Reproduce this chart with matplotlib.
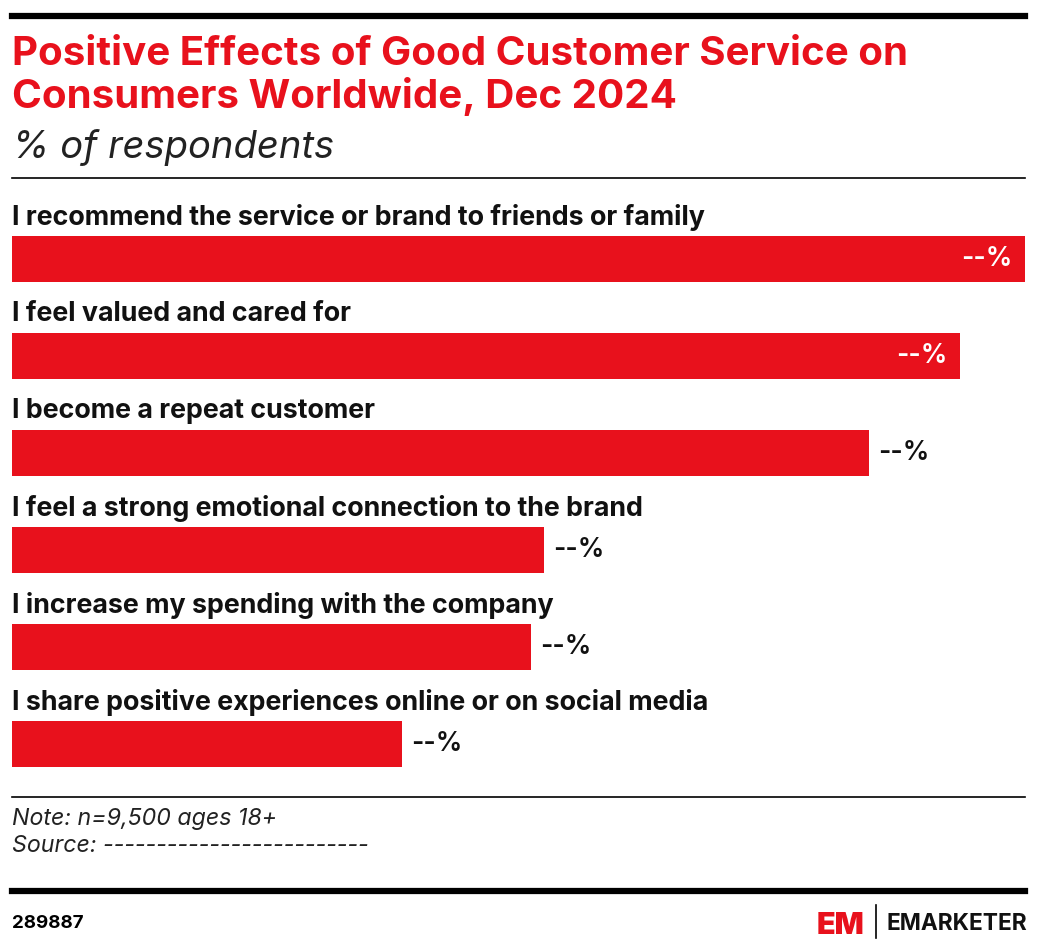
import matplotlib.pyplot as plt
from matplotlib.lines import Line2D

# data
categories = [
    "I recommend the service or brand to friends or family",
    "I feel valued and cared for",
    "I become a repeat customer",
    "I feel a strong emotional connection to the brand",
    "I increase my spending with the company",
    "I share positive experiences online or on social media",
]
values = [78, 73, 66, 41, 40, 30]
value_labels = ["--%"] * len(values)
inside = [True, True, False, False, False, False]

RED = "#E8111C"
W, H = 1038, 952
plt.rcParams['font.family'] = ['Inter', 'DejaVu Sans']

fig = plt.figure(figsize=(W / 100, H / 100), dpi=100)

def fx(px):
    return px / W

def fy(py):
    return 1 - py / H

# header
fig.add_artist(Line2D([fx(12), fx(1025)], [fy(15.5), fy(15.5)], color='black', lw=4.5))
fig.text(fx(12), fy(65), "Positive Effects of Good Customer Service on", color=RED,
         fontsize=29, fontweight='bold', va='baseline')
fig.text(fx(12), fy(108), "Consumers Worldwide, Dec 2024", color=RED,
         fontsize=29, fontweight='bold', va='baseline')
fig.text(fx(12), fy(158), "% of respondents", color='#222222',
         fontsize=27.5, fontstyle='italic', va='baseline')
fig.add_artist(Line2D([fx(12), fx(1025)], [fy(178), fy(178)], color='black', lw=1.2))

# bars
ax = fig.add_axes([fx(12), fy(790), fx(1025) - fx(12), 600 / H])
ypos = list(range(len(categories)))
ax.barh(ypos, values, height=0.474, color=RED)
ax.set_xlim(0, max(values))
ax.set_ylim(5.474, -0.711)
ax.axis('off')

for i, (cat, v, lab, ins) in enumerate(zip(categories, values, value_labels, inside)):
    ax.text(0, i - 0.43, cat, fontsize=19.3, fontweight='bold', va='center', ha='left',
            color='#111111')
    if ins:
        ax.text(v - 1.0, i, lab, fontsize=19, fontweight='semibold', color='white',
                va='center', ha='right')
    else:
        ax.text(v + 0.7, i, lab, fontsize=19, fontweight='semibold', color='#111111',
                va='center', ha='left')

# footer
fig.add_artist(Line2D([fx(12), fx(1025)], [fy(797), fy(797)], color='black', lw=1.2))
fig.text(fx(12), fy(825), "Note: n=9,500 ages 18+", fontsize=16.7, fontstyle='italic',
         va='baseline', color='#222222')
fig.text(fx(12), fy(852), "Source: -------------------------", fontsize=16.7,
         fontstyle='italic', va='baseline', color='#222222')
fig.add_artist(Line2D([fx(12), fx(1025)], [fy(891), fy(891)], color='black', lw=4.5))
fig.text(fx(12), fy(928), "289887", fontsize=13.5, fontweight='bold', va='baseline')

# logo
fig.text(fx(817), fy(934), "EM", color=RED, fontsize=22, fontweight='black', va='baseline')
fig.add_artist(Line2D([fx(876), fx(876)], [fy(905), fy(938)], color='black', lw=1.2))
fig.text(fx(886), fy(930), "EMARKETER", color='#111111', fontsize=16.3, fontweight='bold',
         va='baseline')

fig.savefig("out.png", dpi=100)
